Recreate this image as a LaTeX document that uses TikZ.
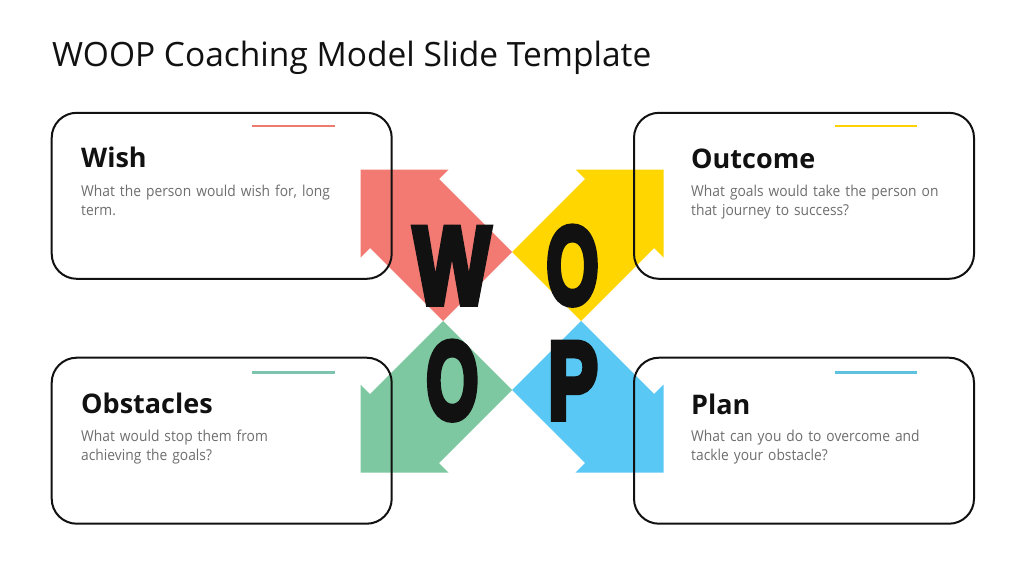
\documentclass[tikz,border=0pt]{standalone}
\usepackage{fontspec}
\setmainfont{Open Sans}
\newfontfamily\descfont[FakeStretch=0.92]{Open Sans}
\newfontfamily\bigfont[FakeBold=6]{Liberation Sans Bold}
\definecolor{wred}{HTML}{F27A72}
\definecolor{wyel}{HTML}{FFD600}
\definecolor{wgrn}{HTML}{7DC8A0}
\definecolor{wblu}{HTML}{5AC8F5}
\definecolor{lred}{HTML}{EE7B70}
\definecolor{lyel}{HTML}{FFD200}
\definecolor{lgrn}{HTML}{7CC4AE}
\definecolor{lblu}{HTML}{5EC2DE}
\definecolor{desc}{HTML}{6E6E6E}
\definecolor{ink}{HTML}{111111}
\tikzset{
  card/.style={draw=ink, line width=2pt, rounded corners=25pt, minimum width=340pt, minimum height=166pt, inner sep=0pt},
  cardtitle/.style={anchor=base west, inner sep=0pt, text=ink, font=\fontsize{27}{32}\selectfont\bfseries},
  carddesc/.style={anchor=base west, inner sep=0pt, text=desc, text width=300pt, align=left, font=\descfont\fontsize{15}{18.3}\selectfont},
  accent/.style={line width=2.5pt},
  bigletter/.style={anchor=base, inner sep=0pt, text=ink, font=\bigfont\fontsize{110}{110}\selectfont}
}
\begin{document}
\begin{tikzpicture}[x=1pt,y=-1pt]
\useasboundingbox (0,0) rectangle (1024,576);
\fill[white] (0,0) rectangle (1024,576);
% title
\node[anchor=base west, inner sep=0pt, text=ink, font=\fontsize{33.5}{40}\selectfont] (title) at (52,66) {WOOP Coaching Model Slide Template};
% arrows
\foreach \sx/\sy/\c in {1/1/wred, -1/1/wyel, 1/-1/wgrn, -1/-1/wblu}{
  \begin{scope}[shift={(512,321)}, xscale=\sx, yscale=\sy]
    \fill[\c] (-151.5,-151.5) -- (-63.5,-151.5) -- (-73,-142) -- (0,-69) -- (-69,0) -- (-142,-73) -- (-151.5,-63.5) -- cycle;
  \end{scope}
}
% cards
\node[card] (wish) at (221.7,195.8) {};
\node[card] (outcome) at (804,195.8) {};
\node[card] (obst) at (221.7,440.7) {};
\node[card] (plan) at (804,440.7) {};
% accent lines
\coordinate (wa1) at (252.3,126); \coordinate (wa2) at (335,126);
\coordinate (oa1) at (835,126); \coordinate (oa2) at (917,126);
\coordinate (ba1) at (252.3,372.3); \coordinate (ba2) at (335,372.3);
\coordinate (pa1) at (835,372.3); \coordinate (pa2) at (917,372.3);
\draw[accent, lred] (wa1) -- (wa2);
\draw[accent, lyel] (oa1) -- (oa2);
\draw[accent, lgrn] (ba1) -- (ba2);
\draw[accent, lblu] (pa1) -- (pa2);
% card texts
\node[cardtitle] (wisht) at (81,167.7) {Wish};
\node[carddesc] (wishd) at (81,196.7) {What the person would wish for, long\\term.};
\node[cardtitle] (outt) at (691,168) {Outcome};
\node[carddesc] (outd) at (691,196.7) {What goals would take the person on\\that journey to success?};
\node[cardtitle] (obstt) at (81,413.5) {Obstacles};
\node[carddesc] (obstd) at (81,441.7) {What would stop them from\\achieving the goals?};
\node[cardtitle] (plant) at (691,414) {Plan};
\node[carddesc] (pland) at (691,441.7) {What can you do to overcome and\\tackle your obstacle?};
% letters
\node[bigletter] (lw) at (452,303.5) {\scalebox{0.74}[1]{W}};
\node[bigletter] (lo1) at (572.5,303.5) {\scalebox{0.61}[1]{O}};
\node[bigletter] (lo2) at (452.3,418.5) {\scalebox{0.61}[1]{O}};
\node[bigletter] (lp) at (573,418.5) {\scalebox{0.68}[1]{P}};
\end{tikzpicture}
\end{document}
